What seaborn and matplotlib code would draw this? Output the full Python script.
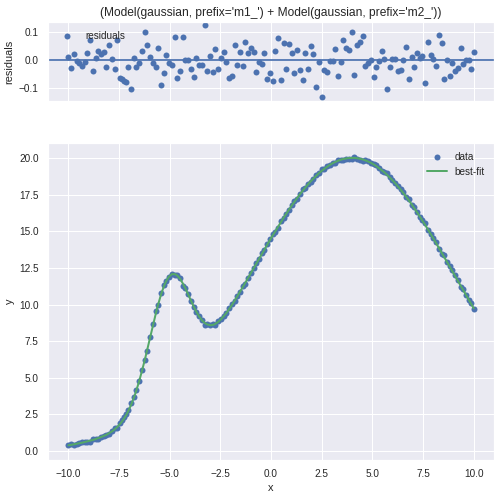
import numpy as np
import matplotlib
matplotlib.use("Agg")
import matplotlib.pyplot as plt
import seaborn as sns

# sample positions
x = [-10.0, -9.85, -9.70, -9.56, -9.46, -9.31, -9.16, -9.06, -8.91, -8.77,
     -8.62, -8.52, -8.37, -8.23, -8.13, -7.98, -7.83, -7.68, -7.58, -7.44,
     -7.34, -7.24, -7.14, -7.04, -6.90, -6.75, -6.65, -6.50, -6.35, -6.21,
     -6.11, -5.96, -5.81, -5.66, -5.57, -5.42, -5.27, -5.17, -5.04, -4.89,
     -4.73, -4.63, -4.48, -4.33, -4.23, -4.09, -3.94, -3.79, -3.69, -3.55,
     -3.40, -3.25, -3.15, -3.00, -2.86, -2.76, -2.61, -2.46, -2.31, -2.21,
     -2.06, -1.92, -1.77, -1.67, -1.53, -1.38, -1.28, -1.13, -0.98, -0.84,
     -0.74, -0.59, -0.44, -0.34, -0.19, -0.05, 0.10, 0.20, 0.35, 0.49,
     0.64, 0.74, 0.89, 1.04, 1.14, 1.28, 1.43, 1.58, 1.68, 1.82,
     1.97, 2.07, 2.22, 2.37, 2.51, 2.61, 2.76, 2.91, 3.06, 3.15,
     3.30, 3.45, 3.55, 3.70, 3.84, 3.99, 4.09, 4.24, 4.39, 4.53,
     4.63, 4.78, 4.93, 5.07, 5.17, 5.32, 5.47, 5.57, 5.72, 5.86,
     5.96, 6.11, 6.26, 6.41, 6.50, 6.65, 6.80, 6.95, 7.05, 7.19,
     7.34, 7.44, 7.59, 7.74, 7.88, 7.98, 8.13, 8.28, 8.43, 8.52,
     8.67, 8.82, 8.92, 9.07, 9.21, 9.36, 9.46, 9.61, 9.76, 9.85,
     10.00]

# best-fit curve values at each x
best_fit = [0.40, 0.43, 0.47, 0.51, 0.53, 0.58, 0.63, 0.66, 0.72, 0.77,
            0.84, 0.89, 0.97, 1.05, 1.11, 1.23, 1.36, 1.53, 1.66, 1.87,
            2.05, 2.25, 2.48, 2.75, 3.17, 3.71, 4.12, 4.80, 5.57, 6.33,
            6.91, 7.80, 8.68, 9.53, 10.00, 10.72, 11.30, 11.61, 11.90, 12.07,
            12.07, 11.98, 11.74, 11.38, 11.11, 10.69, 10.23, 9.79, 9.52, 9.19,
            8.91, 8.72, 8.64, 8.59, 8.61, 8.67, 8.81, 9.00, 9.24, 9.41,
            9.70, 9.99, 10.32, 10.55, 10.87, 11.22, 11.46, 11.82, 12.18, 12.52,
            12.76, 13.12, 13.48, 13.72, 14.08, 14.41, 14.75, 14.98, 15.32, 15.63,
            15.96, 16.17, 16.48, 16.79, 16.98, 17.25, 17.53, 17.79, 17.96, 18.19,
            18.42, 18.56, 18.77, 18.97, 19.13, 19.24, 19.39, 19.53, 19.65, 19.71,
            19.80, 19.88, 19.92, 19.96, 19.99, 20.00, 20.00, 19.98, 19.94, 19.89,
            19.84, 19.76, 19.66, 19.55, 19.46, 19.31, 19.15, 19.04, 18.85, 18.66,
            18.52, 18.30, 18.06, 17.81, 17.65, 17.38, 17.10, 16.81, 16.60, 16.32,
            16.00, 15.78, 15.46, 15.12, 14.80, 14.57, 14.22, 13.86, 13.51, 13.29,
            12.93, 12.57, 12.33, 11.96, 11.62, 11.26, 11.02, 10.66, 10.30, 10.09,
            9.74]

# residuals (model - data)
residual = [0.012, -0.027, 0.023, -0.001, -0.008, -0.021, -0.006, 0.027, 0.074, -0.039,
            0.008, 0.034, 0.021, 0.028, -0.024, 0.056, 0.005, -0.031, 0.071, -0.062,
            -0.068, -0.073, -0.079, -0.024, -0.103, 0.008, -0.024, -0.010, 0.035, 0.103,
            0.055, 0.012, -0.010, -0.024, 0.045, -0.090, -0.047, 0.019, -0.010, -0.017,
            0.085, -0.064, -0.039, 0.085, 0.001, 0.001, -0.030, -0.061, 0.008, -0.017,
            -0.017, 0.125, -0.039, 0.016, -0.042, 0.041, -0.032, 0.008, 0.030, -0.006,
            -0.064, -0.057, 0.056, -0.017, 0.030, -0.021, 0.067, 0.027, 0.045, 0.030,
            -0.042, -0.006, -0.013, 0.027, -0.068, -0.046, -0.075, 0.034, 0.081, -0.072,
            0.063, -0.032, 0.059, 0.027, -0.046, 0.038, -0.035, -0.072, 0.027, -0.032,
            0.052, 0.023, -0.097, -0.006, -0.133, -0.035, -0.042, -0.002, -0.002, 0.041,
            -0.057, -0.006, 0.074, 0.045, 0.038, 0.103, -0.053, 0.056, 0.067, 0.088,
            -0.021, -0.010, 0.001, -0.061, -0.024, -0.002, 0.034, 0.005, -0.104, -0.024,
            0.005, 0.005, -0.039, -0.035, 0.001, 0.048, -0.068, 0.012, -0.024, 0.027,
            0.008, 0.016, -0.082, 0.067, 0.019, 0.005, -0.021, 0.092, 0.063, -0.068,
            0.001, -0.057, -0.010, -0.039, -0.028, 0.045, -0.013, 0.001, 0.001, -0.032,
            0.030]

title = "(Model(gaussian, prefix='m1_') + Model(gaussian, prefix='m2_'))"

x = np.array(x)
best_fit = np.array(best_fit)
residual = np.array(residual)
data = best_fit - residual

sns.set_theme(style="darkgrid", rc={
    "axes.labelsize": 11,
    "axes.titlesize": 12,
    "xtick.labelsize": 10,
    "ytick.labelsize": 10,
    "legend.fontsize": 10,
    "lines.linewidth": 1.75,
    "lines.markersize": 7,
    "legend.frameon": False,
})
plt.rcParams["font.family"] = ["Liberation Sans", "DejaVu Sans"]

blue = "#4C72B0"
green = "#55A868"

fig, (ax_res, ax_fit) = plt.subplots(
    2, 1, sharex=True, figsize=(501 / 72, 495 / 72), dpi=72,
    gridspec_kw={"height_ratios": [1, 4]})
fig.subplots_adjust(left=0.096, right=0.986, top=0.956, bottom=0.071, hspace=0.21)

# residuals panel
ax_res.axhline(0, color=blue, lw=1.75)
sns.scatterplot(x=x, y=residual, ax=ax_res, color=blue, s=36, linewidth=0,
                label="residuals")
ax_res.set_ylabel("residuals")
ax_res.set_title(title)
ax_res.legend(loc="upper left")

# data + fit panel
sns.scatterplot(x=x, y=data, ax=ax_fit, color=blue, s=36, linewidth=0, label="data")
sns.lineplot(x=x, y=best_fit, ax=ax_fit, color=green, lw=2.0, label="best-fit")
ax_fit.set_xlabel("x")
ax_fit.set_ylabel("y")
ax_fit.legend(loc="upper right")

fig.savefig("out.png", dpi=72)
